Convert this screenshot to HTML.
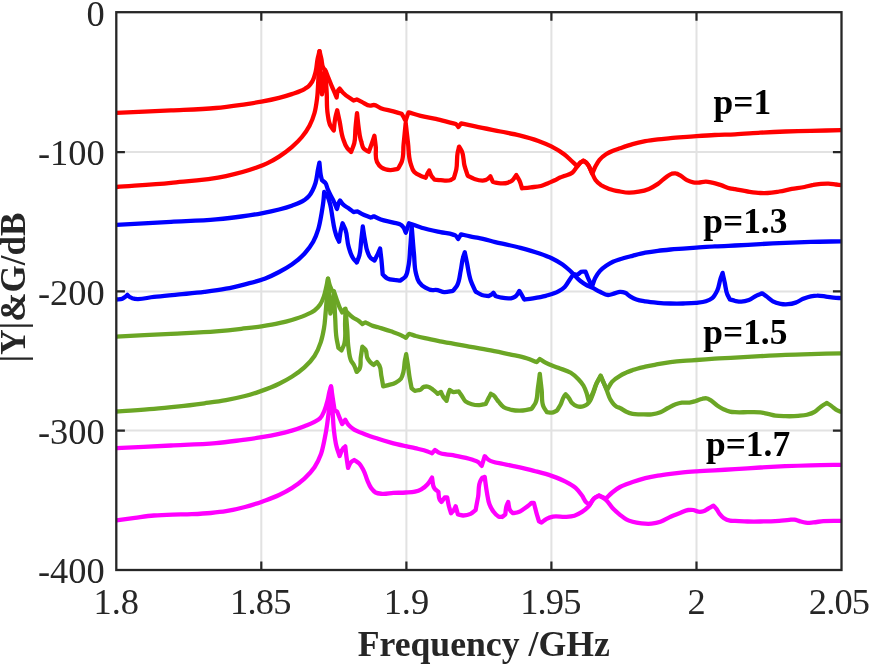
<!DOCTYPE html>
<html lang="en"><head><meta charset="utf-8"><title>|Y|&amp;G vs Frequency</title>
<style>html,body{margin:0;padding:0;background:#fff}body{width:871px;height:665px;overflow:hidden}svg{display:block}.t{font-family:"Liberation Serif","Times New Roman",serif;font-size:36.4px;fill:#262626}.b{font-family:"Liberation Serif","Times New Roman",serif;font-weight:bold;font-size:35.7px;fill:#262626}.p{font-family:"Liberation Serif","Times New Roman",serif;font-weight:bold;font-size:35.4px;fill:#000}.c{fill:none;stroke-width:4.3;stroke-linejoin:round;stroke-linecap:butt}</style></head><body>
<svg width="871" height="665" viewBox="0 0 871 665">
<rect width="871" height="665" fill="#fff"/>
<path d="M261.3 12.2V570.0M406.4 12.2V570.0M551.4 12.2V570.0M696.5 12.2V570.0M116.3 152.1H841.5M116.3 291.4H841.5M116.3 430.6H841.5" stroke="#e2e2e2" stroke-width="2" fill="none"/>
<clipPath id="cp"><rect x="116.3" y="12.2" width="725.2" height="557.8"/></clipPath>
<g clip-path="url(#cp)">
<path class="c" stroke="#ff0000" d="M116.3 112.9C134.5 112.1 152.8 111.3 171.0 110.4C186.0 109.7 201.1 109.5 216.0 108.0C224.5 107.2 232.9 106.0 241.3 104.8C248.0 103.8 254.8 102.9 261.5 101.7C267.4 100.6 273.3 99.4 279.1 97.9C283.4 96.8 287.6 95.5 291.8 94.1C296.1 92.6 300.5 91.4 304.4 89.1C305.8 88.2 307.3 87.4 308.5 86.3C310.0 84.9 311.2 83.2 312.3 81.5C314.1 78.5 314.8 74.9 315.7 71.5C316.7 67.4 316.7 63.1 317.6 58.9C318.1 56.3 318.9 53.7 319.5 51.1C320.1 53.7 320.8 56.3 321.4 58.9C322.1 61.9 321.7 65.2 323.3 67.8C323.8 68.7 324.6 69.4 325.2 70.3C326.7 72.6 327.3 75.4 328.4 77.9C329.4 80.4 330.4 83.0 331.5 85.5C332.7 88.4 334.1 91.3 335.3 94.3C335.7 95.4 336.2 96.4 336.6 97.5C337.1 95.2 336.8 92.5 338.1 90.5C338.6 89.8 339.2 89.2 339.7 88.6C340.8 89.9 341.7 91.3 342.9 92.6C345.9 95.9 350.0 97.9 353.6 100.6C354.7 100.2 355.7 99.8 356.8 99.4C358.5 100.2 360.1 101.1 361.8 101.9C364.5 103.2 367.0 105.7 370.0 105.7C371.3 105.7 372.5 105.0 373.8 105.0C376.4 105.0 378.4 107.3 380.8 108.2C384.9 109.7 389.2 110.2 393.4 111.4C396.1 112.2 398.9 113.0 401.6 113.8C402.2 114.7 402.8 115.6 403.3 116.5C404.1 117.9 404.8 119.4 405.6 120.8C406.1 119.2 406.6 117.6 407.2 116.0C407.6 114.8 408.1 113.6 408.6 112.4C412.6 113.5 416.6 114.8 420.6 115.8C425.6 117.0 430.8 117.8 435.8 118.9C441.7 120.2 447.6 122.0 453.5 123.4C454.2 123.6 455.0 123.6 455.7 123.9C456.9 124.5 457.5 126.0 458.4 127.0C459.3 125.8 460.3 124.5 461.2 123.3C465.9 124.3 470.6 125.4 475.3 126.4C483.7 128.2 492.1 129.8 500.5 131.5C506.8 132.8 513.2 133.8 519.5 135.3C525.9 136.9 532.2 138.6 538.4 140.9C542.8 142.5 547.1 144.3 551.3 146.4C555.8 148.7 560.1 151.2 564.1 154.3C567.0 156.5 569.5 159.1 572.2 161.5C573.9 163.1 575.6 164.7 577.3 166.3C578.4 165.0 579.2 163.5 580.5 162.5C581.4 161.8 582.5 161.3 583.5 160.7C584.6 161.5 585.7 162.2 586.7 163.1C589.6 165.8 590.4 170.1 592.3 173.6C593.4 171.2 594.3 168.6 595.5 166.3C596.7 164.1 597.9 161.8 599.5 159.9C601.3 157.7 603.6 155.9 606.0 154.3C608.2 152.9 610.6 151.8 613.0 150.8C615.3 149.8 617.7 149.1 620.0 148.3C624.2 146.8 628.3 145.3 632.6 144.1C636.8 142.9 641.0 142.0 645.3 141.2C649.5 140.4 653.7 139.9 657.9 139.4C662.1 138.9 666.3 138.6 670.5 138.2C674.7 137.8 678.9 137.5 683.1 137.2C687.5 136.8 692.0 136.4 696.4 136.1C702.5 135.7 708.6 135.3 714.7 135.0C721.5 134.7 728.2 134.7 735.0 134.4C743.4 134.0 751.9 133.2 760.3 132.7C768.7 132.2 777.1 131.8 785.5 131.5C793.9 131.2 802.4 131.0 810.8 130.8C821.0 130.6 831.3 130.4 841.5 130.2"/>
<path class="c" stroke="#ff0000" d="M116.3 187.0C134.5 185.6 152.8 184.6 171.0 182.8C189.4 181.0 208.0 180.1 226.0 176.1C235.9 173.9 245.7 171.4 255.2 168.0C259.0 166.6 262.8 165.3 266.5 163.6C270.9 161.6 275.1 159.2 279.1 156.6C283.5 153.7 287.8 150.6 291.8 147.1C295.4 144.0 298.9 140.7 301.9 137.0C304.8 133.5 307.4 129.7 309.5 125.7C311.6 121.7 313.3 117.4 314.5 113.0C315.8 108.4 316.4 103.7 317.0 99.0C317.9 92.0 318.0 85.0 318.4 78.0C318.9 69.0 319.1 60.1 319.5 51.1C319.9 59.1 320.3 67.0 320.8 75.0C321.2 81.4 321.6 87.9 322.0 94.3C322.5 91.2 323.1 88.1 323.5 85.0C324.2 80.1 324.6 75.2 325.2 70.3C325.7 77.7 326.3 85.2 326.7 92.6C327.1 99.8 326.5 107.0 327.7 114.1C328.3 117.9 328.5 122.0 330.3 125.5C331.2 127.3 332.6 128.8 333.8 130.5C334.3 126.3 334.5 122.0 335.3 117.9C335.8 115.3 336.6 112.8 337.2 110.3C338.0 114.1 338.9 117.9 339.7 121.7C340.8 127.2 341.1 132.8 342.9 138.1C344.1 141.6 345.0 145.3 347.3 148.2C348.4 149.6 349.8 150.7 351.1 152.0C352.2 149.0 353.5 146.2 354.3 143.1C355.5 138.2 355.0 133.0 355.5 128.0C355.9 123.0 356.5 118.1 357.0 113.1C357.6 118.1 358.0 123.1 358.7 128.0C359.2 131.8 359.6 135.7 360.6 139.4C360.8 140.2 361.1 140.9 361.3 141.7C362.0 144.0 362.2 146.7 363.8 148.6C365.1 150.1 367.1 150.7 368.8 151.8C369.9 148.8 371.0 145.9 372.0 142.9C372.8 140.5 373.6 138.2 374.4 135.8C374.9 139.5 375.4 143.3 375.8 147.0C376.3 152.0 374.7 157.5 377.0 161.9C378.1 164.0 379.5 166.2 381.5 167.6C384.0 169.4 387.3 170.0 390.3 170.1C392.9 170.2 395.4 169.2 397.9 168.8C399.2 166.5 400.7 164.3 401.7 161.9C403.9 156.4 403.0 150.1 403.6 144.2C404.3 137.1 405.0 130.1 405.7 123.0C406.5 129.6 407.2 136.3 408.0 142.9C408.8 149.6 408.4 156.6 410.5 163.1C411.5 166.2 412.1 169.7 414.3 172.0C416.0 173.8 418.4 174.8 420.6 175.8C422.2 176.6 424.0 177.1 425.7 177.7C426.3 176.2 426.9 174.7 427.6 173.3C428.1 172.3 428.7 171.4 429.2 170.5C429.9 172.3 430.4 174.2 431.4 175.8C432.3 177.2 433.5 178.3 434.5 179.6C436.6 179.8 438.7 180.1 440.8 180.2C444.2 180.4 447.8 181.2 450.9 179.9C451.9 179.5 452.8 178.8 453.8 178.2C454.6 175.3 455.7 172.4 456.3 169.4C457.4 164.0 456.6 158.3 457.6 152.9C458.0 150.8 458.6 148.7 459.1 146.6C460.1 148.3 461.2 149.9 462.0 151.7C463.9 156.0 463.3 161.0 464.5 165.6C465.4 169.0 466.6 172.3 467.7 175.7C469.8 176.7 471.8 178.0 474.0 178.8C477.6 180.0 481.8 181.5 485.4 180.1C486.3 179.8 487.1 179.3 487.9 178.8C488.9 178.1 489.6 177.1 490.4 176.3C491.2 178.2 492.1 180.1 492.9 182.0C495.4 182.4 497.9 183.2 500.5 183.3C503.0 183.4 505.7 183.4 508.1 182.6C509.4 182.1 510.8 181.5 511.9 180.7C513.8 179.3 514.8 176.9 516.3 175.0C517.4 176.9 518.6 178.7 519.5 180.7C520.6 183.1 521.2 185.8 522.0 188.3C524.9 188.0 527.9 187.7 530.8 187.3C534.2 186.9 537.6 186.9 540.9 186.0C543.5 185.3 546.0 184.0 548.5 183.0C550.6 182.1 552.7 181.3 554.8 180.3C556.6 179.4 558.2 178.3 560.0 177.5C561.3 176.9 562.7 176.5 564.1 176.0C566.8 175.0 569.9 174.6 572.2 172.8C574.4 171.1 575.6 168.4 577.3 166.3C578.4 165.0 579.2 163.5 580.5 162.5C581.4 161.8 582.5 161.3 583.5 160.7C584.6 161.5 585.7 162.2 586.7 163.1C589.6 165.8 590.5 170.1 592.3 173.6C593.4 175.7 594.1 178.1 595.5 180.0C597.0 182.1 599.1 183.8 601.2 185.3C603.6 186.9 606.4 187.9 609.2 188.9C612.7 190.1 616.4 190.8 620.0 191.5C622.9 192.0 625.8 192.6 628.8 192.7C632.2 192.8 635.6 192.3 638.9 191.7C642.3 191.1 645.8 190.2 649.0 188.9C652.1 187.6 655.1 185.8 657.9 183.9C661.2 181.7 663.8 178.4 667.2 176.3C668.7 175.4 670.1 174.2 671.8 173.7C673.0 173.4 674.3 173.2 675.6 173.4C677.4 173.6 679.0 174.8 680.6 175.7C682.8 176.9 684.6 178.9 686.9 180.1C688.9 181.1 691.1 182.0 693.3 182.4C694.9 182.7 696.6 182.6 698.3 182.6C700.9 182.5 703.3 181.5 705.9 181.6C708.0 181.7 710.1 182.2 712.2 182.6C715.2 183.2 718.1 184.2 721.0 185.1C724.0 186.1 726.8 187.6 729.9 188.3C731.6 188.7 733.3 188.9 735.0 189.2C739.2 189.9 743.4 190.9 747.6 191.5C751.8 192.1 756.0 192.8 760.3 193.0C762.8 193.1 765.3 193.1 767.8 193.0C771.6 192.8 775.4 192.1 779.2 191.5C783.4 190.8 787.6 189.7 791.8 188.9C796.0 188.2 800.3 187.8 804.5 187.0C807.5 186.4 810.3 185.4 813.3 184.9C815.8 184.4 818.4 184.1 820.9 183.9C823.4 183.7 826.0 183.5 828.5 183.6C831.0 183.7 833.5 184.2 836.0 184.5C837.8 184.7 839.7 184.9 841.5 185.1"/>
<path class="c" stroke="#0000ff" d="M116.3 224.9C134.5 223.9 152.8 222.8 171.0 221.8C186.0 221.0 201.0 220.8 216.0 219.4C224.5 218.6 232.9 217.7 241.3 216.5C248.1 215.6 254.8 214.6 261.5 213.3C267.4 212.2 273.3 211.0 279.1 209.5C283.4 208.4 287.7 207.2 291.8 205.7C296.1 204.1 300.7 202.8 304.4 200.1C306.0 198.9 307.6 197.7 308.9 196.2C310.4 194.5 311.5 192.5 312.5 190.5C313.7 188.1 314.7 185.6 315.5 183.0C316.8 178.8 317.1 174.3 317.9 170.0C318.4 167.5 318.9 165.1 319.4 162.6C319.9 166.8 320.0 171.1 320.8 175.3C321.1 177.0 321.6 178.6 322.0 180.3C323.1 181.1 324.3 181.8 325.2 182.8C326.7 184.5 326.8 187.1 327.7 189.2C328.5 191.1 329.4 193.0 330.3 194.8C331.5 197.2 332.9 199.4 334.0 201.8C335.1 204.2 336.0 206.6 337.0 209.0C337.6 207.0 337.8 204.9 338.7 203.0C339.1 202.1 339.6 201.3 340.1 200.5C341.0 201.8 341.8 203.2 342.9 204.3C344.7 206.2 347.1 207.2 349.2 208.7C350.7 209.8 352.1 211.0 353.6 212.1C354.9 211.8 356.1 211.6 357.4 211.3C358.9 212.1 360.3 213.0 361.8 213.8C364.7 215.3 367.7 216.3 370.7 217.6C371.7 217.2 372.8 216.7 373.8 216.3C376.1 217.4 378.4 218.6 380.8 219.5C384.8 221.0 389.2 221.4 393.4 222.6C396.1 223.4 399.2 223.4 401.4 225.2C402.2 225.9 402.9 226.7 403.5 227.5C404.6 229.0 405.0 231.0 405.8 232.7C406.8 229.6 407.9 226.4 408.9 223.3C413.1 224.8 417.3 226.4 421.6 227.7C427.8 229.6 434.2 230.8 440.5 232.1C444.7 233.0 449.1 233.2 453.1 234.6C453.9 234.9 454.8 235.0 455.5 235.5C456.7 236.3 457.3 237.8 458.2 239.0C459.1 237.4 460.1 235.9 461.0 234.3C464.0 235.0 467.0 235.8 470.0 236.4C472.8 237.0 475.6 237.3 478.4 237.8C484.1 238.9 489.7 240.7 495.3 242.1C503.7 244.1 512.2 245.6 520.5 247.8C526.9 249.5 533.3 251.3 539.5 253.5C543.8 255.0 548.0 256.5 552.1 258.5C555.6 260.2 559.0 262.0 562.2 264.2C564.9 266.1 567.4 268.3 569.8 270.5C571.1 271.7 572.3 273.0 573.6 274.3C576.0 276.6 578.1 279.3 580.7 281.3C582.7 282.9 584.9 284.3 587.2 285.5C588.7 286.3 590.4 286.8 592.0 287.5C594.8 288.8 597.3 290.5 600.0 291.8C602.6 293.0 605.2 294.9 608.1 295.0C610.3 295.0 612.4 294.0 614.5 293.4C616.3 292.9 618.1 291.9 620.0 291.8C621.7 291.7 623.5 292.1 625.1 292.8C627.0 293.6 628.4 295.3 630.1 296.3C632.1 297.5 634.2 298.6 636.4 299.4C639.2 300.4 642.3 300.8 645.3 301.3C649.5 302.0 653.7 302.4 657.9 302.8C662.1 303.2 666.3 303.4 670.5 303.5C674.7 303.6 678.9 303.6 683.1 303.5C687.3 303.4 691.6 303.4 695.8 302.9C699.2 302.5 702.7 302.4 705.9 301.3C708.1 300.5 710.4 299.6 712.2 298.1C714.5 296.2 715.9 293.3 717.2 290.6C718.9 287.1 719.2 283.0 720.4 279.2C721.1 277.1 721.9 275.0 722.6 272.9C723.3 276.3 724.1 279.6 724.8 283.0C725.6 286.8 725.8 290.8 727.3 294.4C728.0 296.1 729.0 297.7 729.9 299.4C731.6 299.9 733.3 300.5 735.0 300.9C737.1 301.3 739.2 301.8 741.3 301.7C743.9 301.6 746.5 300.9 748.9 300.0C751.6 299.0 753.9 296.9 756.5 295.6C758.4 294.7 760.3 294.1 762.2 293.3C763.9 294.5 765.6 295.7 767.2 296.9C769.1 298.3 770.8 300.2 772.9 301.3C775.2 302.6 777.9 303.3 780.5 303.8C783.0 304.3 785.5 304.4 788.0 304.2C790.6 304.0 793.2 303.4 795.6 302.6C798.3 301.7 800.6 299.9 803.2 298.8C805.7 297.8 808.2 296.8 810.8 296.3C812.9 295.9 815.0 295.6 817.1 295.6C820.1 295.5 823.0 296.2 825.9 296.6C829.3 297.0 832.6 297.7 836.0 297.9C837.8 298.0 839.7 298.0 841.5 298.1"/>
<path class="c" stroke="#0000ff" d="M116.3 299.5C118.3 299.3 120.5 299.6 122.3 298.8C123.3 298.4 124.1 297.7 125.0 297.0C125.9 296.3 126.6 295.5 127.4 294.8C128.2 295.5 128.9 296.4 129.8 297.0C130.6 297.5 131.5 297.8 132.4 298.2C139.1 300.8 146.7 297.5 153.9 296.9C162.3 296.2 170.8 295.2 179.2 294.4C187.6 293.6 196.0 293.0 204.4 291.9C211.6 291.0 218.9 290.1 226.0 288.7C232.4 287.5 238.7 285.9 245.0 284.3C251.8 282.5 258.7 281.0 265.3 278.4C270.0 276.6 274.6 274.4 279.1 272.0C283.5 269.7 287.8 267.3 291.8 264.5C296.3 261.3 300.7 257.8 304.4 253.7C307.7 250.0 310.8 246.0 313.2 241.7C315.4 237.7 317.0 233.4 318.3 229.1C319.8 224.2 320.6 219.0 321.5 213.9C322.2 209.7 322.9 205.5 323.4 201.3C323.8 198.2 323.9 195.1 324.2 192.0C325.4 193.6 326.8 195.1 327.8 196.9C329.1 199.4 329.6 202.3 330.3 205.0C331.2 208.6 331.6 212.3 332.2 216.0C333.0 220.7 333.5 225.4 334.7 230.0C335.4 232.5 336.0 235.1 337.0 237.5C337.6 238.9 338.4 240.3 339.1 241.7C339.7 237.6 340.1 233.4 341.0 229.4C341.5 227.3 342.1 225.3 342.6 223.3C343.5 225.4 344.6 227.4 345.4 229.5C347.4 235.0 346.9 241.1 348.6 246.7C349.8 250.6 350.7 254.7 353.0 258.1C354.1 259.7 355.5 261.0 356.8 262.5C357.6 260.2 358.6 258.0 359.3 255.6C360.7 250.7 360.6 245.5 361.2 240.4C361.8 235.8 362.3 231.1 362.8 226.5C363.5 231.1 364.1 235.8 365.0 240.4C365.7 244.2 366.1 248.2 367.5 251.8C368.4 254.0 369.0 256.4 370.7 258.1C371.8 259.2 373.2 259.8 374.5 260.6C375.5 258.5 376.6 256.4 377.6 254.3C378.5 252.4 379.3 250.5 380.1 248.6C380.5 252.2 381.0 255.8 381.4 259.4C381.9 264.4 382.3 269.5 382.7 274.5C384.2 275.8 385.4 277.3 387.1 278.3C389.7 279.8 392.9 279.8 395.9 280.2C397.3 280.4 398.7 280.5 400.1 280.7C401.8 279.4 403.8 278.5 405.2 276.9C407.5 274.2 407.5 270.2 408.3 266.8C409.7 260.6 409.7 254.2 410.2 247.9C410.8 240.7 411.2 233.6 411.7 226.4C412.5 235.7 413.1 244.9 414.0 254.2C414.6 260.5 414.3 267.0 415.9 273.1C416.7 276.1 417.2 279.4 419.0 282.0C420.6 284.4 422.9 286.3 425.4 287.7C427.7 289.0 430.3 290.3 432.9 290.2C433.8 290.2 434.6 289.9 435.5 289.8C438.5 289.6 441.3 291.9 444.3 292.1C447.3 292.3 450.2 291.2 453.1 290.8C454.4 289.1 455.8 287.6 456.9 285.8C459.6 281.3 459.6 275.7 460.7 270.6C461.7 266.0 461.9 261.2 463.3 256.7C463.7 255.2 464.3 253.8 464.8 252.3C465.5 255.9 466.3 259.4 467.0 263.0C468.2 268.9 468.8 275.0 470.8 280.7C472.1 284.4 473.9 287.9 475.5 291.5C477.7 292.7 479.7 294.2 482.0 295.0C484.2 295.7 486.7 295.7 489.0 296.0C489.8 295.5 490.7 295.1 491.5 294.5C492.2 294.0 492.8 293.3 493.4 292.7C494.1 293.8 494.8 294.9 495.5 296.0C497.5 296.6 499.5 297.3 501.6 297.7C505.3 298.4 509.4 299.2 512.9 297.7C514.0 297.2 515.2 296.6 516.1 295.8C517.6 294.5 518.2 292.6 519.3 291.0C520.1 292.3 521.0 293.6 521.8 295.0C522.7 296.5 523.5 298.1 524.3 299.6C527.2 299.2 530.2 298.8 533.1 298.3C537.4 297.6 541.6 296.9 545.8 295.8C550.1 294.6 554.5 293.6 558.4 291.4C560.6 290.1 562.9 288.7 564.7 286.9C566.8 284.8 568.0 281.9 569.8 279.4C571.0 277.7 572.3 276.0 573.6 274.3C574.9 274.4 576.2 274.8 577.5 274.5C579.1 274.1 580.0 272.1 581.6 271.7C582.9 271.3 584.3 271.7 585.6 271.7C586.7 274.4 587.6 277.1 588.8 279.7C589.8 282.0 590.9 284.2 592.0 286.5C593.1 283.7 593.8 280.8 595.2 278.1C596.5 275.5 598.1 273.0 600.0 270.9C601.9 268.8 604.2 267.2 606.5 265.6C608.6 264.2 610.7 262.9 613.0 261.8C615.2 260.8 617.6 260.1 620.0 259.3C624.1 257.9 628.4 256.9 632.6 255.8C636.8 254.7 641.0 253.5 645.3 252.7C649.5 251.9 653.7 251.3 657.9 250.8C662.1 250.3 666.3 249.9 670.5 249.5C674.7 249.1 678.9 248.9 683.1 248.6C687.5 248.3 692.0 247.9 696.4 247.6C702.5 247.2 708.6 246.7 714.7 246.4C721.5 246.0 728.2 245.8 735.0 245.5C743.4 245.1 751.9 244.6 760.3 244.1C768.7 243.7 777.1 243.2 785.5 242.8C793.9 242.4 802.4 242.1 810.8 241.9C821.0 241.6 831.3 241.5 841.5 241.3"/>
<path class="c" stroke="#6ba625" d="M116.3 336.6C134.5 335.7 152.8 334.8 171.0 333.8C186.0 333.0 201.0 332.7 216.0 331.4C224.4 330.7 232.9 329.8 241.3 328.8C248.0 328.0 254.8 327.3 261.5 326.3C267.4 325.4 273.3 324.5 279.1 323.2C283.4 322.3 287.6 321.3 291.8 320.0C296.1 318.7 300.3 317.4 304.4 315.6C307.9 314.1 311.5 312.8 314.5 310.5C316.6 308.9 318.5 307.0 320.0 304.8C321.7 302.3 322.8 299.4 323.8 296.6C325.0 293.3 325.6 289.9 326.4 286.5C327.0 283.9 327.5 281.2 328.0 278.6C328.7 281.2 329.2 284.0 330.2 286.5C330.7 287.9 331.4 289.2 332.0 290.5C332.6 290.8 333.3 291.2 333.9 291.5C334.8 294.0 335.6 296.6 336.5 299.1C337.5 301.9 338.4 304.6 339.6 307.3C340.4 309.0 341.3 310.7 342.2 312.4C343.0 311.3 343.9 310.3 344.7 309.2C345.7 310.5 346.7 311.8 347.8 313.0C349.3 314.6 351.1 316.1 352.9 317.4C354.9 318.8 357.3 319.7 359.2 321.2C360.3 322.1 361.3 323.1 362.4 324.0C363.4 323.5 364.5 322.9 365.5 322.4C367.6 323.4 369.6 324.6 371.8 325.4C373.8 326.2 376.0 326.7 378.1 327.3C382.3 328.6 386.6 329.8 390.8 331.3C394.2 332.5 397.7 333.5 400.9 335.1C402.6 335.9 404.2 336.9 405.9 337.8C407.0 336.5 408.0 335.1 409.1 333.8C411.4 334.5 413.7 335.3 416.0 336.0C418.9 336.8 421.9 337.5 424.9 338.2C430.0 339.4 435.2 340.4 440.3 341.4C448.7 343.0 457.1 344.3 465.5 345.8C473.9 347.3 482.4 348.6 490.8 350.3C497.1 351.5 503.4 352.9 509.7 354.3C515.3 355.6 521.1 356.5 526.6 358.3C530.0 359.4 533.3 360.8 536.7 362.1C537.7 361.0 538.8 360.0 539.8 358.9C541.7 360.2 543.5 361.6 545.5 362.7C549.5 365.0 554.0 366.1 558.2 367.8C562.4 369.5 567.0 370.4 570.8 372.8C573.6 374.6 576.1 376.8 578.4 379.2C580.2 381.1 582.0 383.2 583.4 385.5C584.8 387.8 585.7 390.4 586.6 393.0C587.5 395.6 587.9 398.3 588.6 401.0C589.9 398.7 591.3 396.4 592.4 394.0C594.0 390.6 594.8 386.9 596.4 383.5C597.6 380.9 599.2 378.4 600.6 375.8C601.7 378.4 602.8 381.0 604.0 383.5C605.0 385.7 606.1 387.8 607.2 390.0C608.8 387.3 609.9 384.2 612.0 381.8C614.2 379.3 617.1 377.5 620.0 375.8C622.0 374.6 624.2 373.6 626.3 372.6C628.4 371.7 630.5 370.8 632.6 370.1C636.7 368.6 641.0 367.7 645.3 366.7C649.5 365.7 653.7 365.0 657.9 364.2C662.1 363.4 666.3 362.7 670.5 362.1C674.7 361.6 678.9 361.2 683.1 360.9C687.5 360.5 692.0 360.3 696.4 360.0C702.5 359.6 708.6 359.1 714.7 358.7C721.5 358.3 728.2 358.1 735.0 357.7C743.4 357.2 751.9 356.7 760.3 356.2C768.7 355.7 777.1 355.2 785.5 354.9C793.9 354.5 802.4 354.3 810.8 354.1C821.0 353.8 831.3 353.6 841.5 353.4"/>
<path class="c" stroke="#6ba625" d="M116.3 411.5C128.8 410.6 141.4 410.0 153.9 408.9C162.3 408.2 170.8 407.3 179.2 406.4C187.6 405.5 196.0 404.4 204.4 403.3C211.6 402.3 218.8 401.4 226.0 400.1C232.4 398.9 238.7 397.6 245.0 396.0C250.1 394.7 255.2 393.1 260.2 391.4C266.6 389.2 273.0 386.8 279.1 383.8C283.4 381.7 287.7 379.4 291.8 376.8C296.2 374.0 300.5 371.0 304.4 367.4C308.1 364.0 311.7 360.3 314.5 356.0C317.3 351.7 319.2 346.9 320.8 342.1C322.3 337.6 323.2 332.9 324.0 328.2C324.9 323.2 325.1 318.1 325.6 313.0C326.1 308.0 326.4 303.0 326.8 298.0C327.3 291.5 327.6 285.1 328.0 278.6C328.4 284.6 328.7 290.6 329.1 296.6C329.5 302.3 330.0 307.9 330.4 313.6C330.9 311.3 331.5 309.0 332.0 306.7C333.0 301.7 333.3 296.6 333.9 291.5C334.3 300.3 334.7 309.2 335.2 318.0C335.6 324.6 335.5 331.3 336.5 337.8C337.0 341.2 337.8 344.5 338.4 347.9C339.4 348.7 340.5 349.6 341.5 350.4C342.3 348.7 343.2 347.1 343.8 345.4C346.5 338.3 344.8 330.2 345.1 322.6C345.3 317.9 345.4 313.3 345.5 308.6C346.1 315.4 346.7 322.1 347.2 328.9C347.7 335.2 347.6 341.6 348.5 347.9C349.1 352.1 349.2 356.6 351.0 360.5C351.9 362.3 353.3 363.8 354.2 365.6C355.2 367.6 355.9 369.8 356.7 371.9C357.5 371.1 358.5 370.3 359.2 369.4C361.5 366.3 360.2 361.8 360.7 358.0C361.2 354.2 361.8 350.4 362.4 346.6C363.4 347.7 364.7 348.6 365.5 349.8C367.0 352.1 366.2 355.5 367.4 358.0C368.1 359.4 368.9 360.7 369.9 361.8C371.0 363.0 372.4 363.9 373.7 364.9C374.8 363.9 375.8 363.0 376.9 362.0C377.7 363.2 378.7 364.3 379.4 365.6C381.0 368.6 380.7 372.3 381.3 375.7C382.0 379.3 382.6 382.8 383.2 386.4C384.9 386.0 386.6 385.6 388.3 385.1C390.8 384.4 393.5 383.9 395.8 382.6C397.7 381.6 399.6 380.5 400.9 378.8C402.4 376.9 402.8 374.3 403.4 371.9C404.4 368.2 404.2 364.3 404.9 360.5C405.3 358.4 405.8 356.3 406.2 354.2C406.7 357.6 407.3 360.9 407.8 364.3C408.5 368.9 408.9 373.6 409.7 378.2C410.3 381.6 411.0 384.9 411.6 388.3C412.7 389.1 413.7 390.0 414.8 390.8C416.1 390.6 417.3 390.4 418.6 390.2C419.1 390.1 419.5 390.1 420.0 390.0C421.6 389.6 422.3 387.4 423.8 386.9C425.0 386.5 426.3 386.4 427.6 386.6C429.5 386.9 431.1 388.3 432.7 389.4C434.5 390.7 436.0 392.3 437.7 393.8C438.8 393.2 439.8 392.5 440.9 391.9C441.7 393.6 442.4 395.4 443.4 397.0C444.3 398.4 445.5 399.5 446.6 400.8C447.2 398.3 447.7 395.7 448.5 393.2C448.9 392.1 449.3 391.1 449.7 390.0C450.8 390.6 451.7 391.6 452.9 391.9C454.7 392.4 456.7 391.5 458.6 391.3C459.6 392.8 460.7 394.2 461.7 395.7C463.0 397.6 463.8 399.9 465.5 401.4C467.3 402.9 469.6 403.7 471.8 404.3C474.2 405.0 476.9 405.3 479.4 405.2C481.5 405.1 483.6 404.3 485.7 403.9C486.8 401.8 487.8 399.7 488.9 397.6C489.5 396.3 490.2 395.1 490.8 393.8C491.8 394.4 493.0 394.9 493.9 395.7C495.0 396.6 495.6 397.9 496.5 399.0C497.3 400.0 498.0 401.0 498.8 401.9C500.4 403.8 501.8 406.0 503.8 407.3C506.0 408.8 508.8 409.2 511.4 409.8C515.1 410.6 519.0 410.8 522.8 410.5C525.8 410.3 528.7 409.4 531.6 408.8C532.9 406.9 534.4 405.1 535.4 403.1C537.7 398.5 537.1 393.0 537.9 388.0C538.6 383.3 539.2 378.5 539.8 373.8C540.4 379.4 541.1 384.9 541.7 390.5C542.3 396.0 541.2 401.9 543.6 406.9C544.5 408.7 545.7 410.3 546.8 412.0C548.5 412.2 550.1 412.8 551.8 412.6C553.6 412.4 555.2 411.3 556.9 410.7C558.2 408.6 559.6 406.6 560.7 404.4C561.9 402.0 562.3 399.1 563.8 396.8C564.4 395.9 565.1 395.1 565.7 394.3C566.8 395.6 567.9 396.8 568.9 398.1C570.1 399.7 570.6 401.7 572.0 403.1C573.4 404.5 575.2 405.7 577.1 406.3C579.1 406.9 581.4 406.9 583.4 406.3C584.7 405.9 586.0 405.3 587.1 404.4C588.5 403.3 589.4 401.8 590.3 400.3C591.4 398.6 591.9 396.6 592.7 394.7C594.2 391.0 595.1 387.1 596.7 383.5C597.9 380.8 599.4 378.3 600.7 375.7C601.8 378.3 602.9 380.9 604.0 383.5C605.1 386.2 606.1 388.8 607.2 391.5C608.3 394.2 608.9 397.0 610.4 399.5C612.1 402.3 613.9 405.3 616.8 406.8C617.8 407.3 619.0 407.5 620.0 408.0C622.2 409.0 624.1 410.8 626.3 411.8C628.3 412.7 630.4 413.5 632.6 413.9C635.5 414.5 638.5 414.2 641.5 414.3C644.9 414.4 648.3 414.7 651.6 414.3C654.6 413.9 657.6 413.3 660.4 412.2C663.1 411.1 665.4 409.3 668.0 408.0C670.5 406.7 672.9 405.1 675.6 404.2C677.6 403.5 679.8 402.9 681.9 402.6C684.4 402.3 687.0 402.9 689.5 402.6C691.6 402.3 693.7 401.6 695.8 401.0C697.9 400.4 699.9 399.2 702.1 398.8C703.5 398.5 705.0 398.1 706.5 398.3C708.1 398.5 709.5 399.6 710.9 400.4C713.2 401.8 715.0 404.0 717.2 405.5C719.2 406.9 721.4 408.2 723.6 409.3C725.6 410.2 727.7 411.1 729.9 411.6C731.6 412.0 733.3 412.1 735.0 412.2C739.2 412.5 743.4 412.2 747.6 412.2C751.8 412.2 756.1 411.9 760.3 412.4C762.8 412.7 765.3 413.4 767.8 413.9C770.3 414.4 772.8 415.2 775.4 415.6C778.7 416.1 782.1 416.1 785.5 416.2C789.7 416.3 793.9 416.3 798.1 415.9C801.1 415.6 804.1 415.5 807.0 414.7C809.6 414.0 812.3 413.2 814.6 411.8C816.9 410.5 818.7 408.3 820.9 406.7C822.7 405.4 824.7 404.2 826.6 402.9C828.3 404.0 830.0 404.9 831.6 406.1C833.1 407.2 834.4 408.6 836.0 409.6C837.7 410.7 839.7 411.3 841.5 412.2"/>
<path class="c" stroke="#ff00ff" d="M116.3 448.1C134.5 447.2 152.8 446.4 171.0 445.5C186.0 444.8 201.1 444.6 216.0 443.2C224.5 442.4 232.9 441.2 241.3 440.1C248.1 439.2 254.9 438.4 261.7 437.2C267.5 436.2 273.3 435.1 279.1 433.8C283.4 432.8 287.6 431.9 291.8 430.6C296.1 429.3 300.3 427.8 304.4 426.2C307.8 424.8 311.3 423.6 314.5 421.8C316.4 420.8 318.4 419.9 320.0 418.4C322.2 416.3 323.3 413.2 324.5 410.4C325.9 407.2 326.7 403.7 327.6 400.3C328.4 397.4 328.7 394.3 329.5 391.4C330.0 389.7 330.5 388.1 331.0 386.4C331.6 390.2 332.1 393.9 332.7 397.7C333.3 401.9 334.0 406.2 334.6 410.4C335.4 410.8 336.3 411.2 337.1 411.6C337.9 413.7 338.7 415.8 339.6 417.9C340.4 419.9 341.3 422.0 342.2 424.0C343.2 422.6 344.3 421.2 345.3 419.8C346.4 421.5 347.2 423.4 348.5 424.9C349.8 426.4 351.3 427.6 352.9 428.7C356.6 431.4 361.2 432.7 365.5 434.4C369.6 436.0 373.9 437.4 378.1 438.8C382.3 440.2 386.5 441.4 390.8 442.6C395.8 444.0 400.9 445.1 405.9 446.2C408.9 446.9 412.0 447.5 415.0 448.2C419.2 449.2 423.6 449.9 427.6 451.4C429.1 452.0 430.5 452.7 432.0 453.3C433.0 452.2 434.0 451.0 435.0 449.9C436.1 450.7 437.2 451.7 438.4 452.4C442.6 454.9 448.1 454.2 452.9 455.2C459.2 456.5 465.7 457.4 471.8 459.6C473.9 460.4 476.3 460.8 478.1 462.1C479.5 463.1 480.5 464.6 481.7 465.9C482.7 462.7 483.7 459.4 484.7 456.2C485.9 457.3 487.0 458.6 488.3 459.6C492.5 462.8 498.3 462.8 503.4 464.0C507.2 464.9 511.1 465.6 515.0 466.4C521.3 467.8 527.6 469.2 533.9 470.8C539.8 472.4 545.8 473.9 551.6 475.9C556.3 477.6 561.1 479.3 565.5 481.6C569.0 483.4 572.6 485.3 575.6 487.9C578.1 490.1 580.0 492.8 582.0 495.5C583.8 497.9 584.4 501.4 587.0 503.0C588.0 503.6 589.1 503.9 590.1 504.3C591.4 502.4 592.2 500.2 593.9 498.6C595.4 497.2 597.3 496.5 599.0 495.5C601.3 496.5 603.6 497.6 605.9 498.6C608.0 496.6 610.0 494.4 612.2 492.5C614.6 490.5 617.2 488.5 620.0 487.0C622.0 485.9 624.2 485.1 626.3 484.3C628.4 483.5 630.5 482.7 632.6 482.0C636.8 480.6 641.0 479.3 645.3 478.2C649.5 477.2 653.7 476.4 657.9 475.7C662.1 475.0 666.3 474.4 670.5 473.8C674.7 473.2 678.9 472.7 683.1 472.3C687.5 471.9 692.0 471.6 696.4 471.3C702.5 470.9 708.6 470.6 714.7 470.3C721.5 469.9 728.2 469.6 735.0 469.2C743.4 468.7 751.9 468.0 760.3 467.5C768.7 467.0 777.1 466.6 785.5 466.2C793.9 465.8 802.4 465.5 810.8 465.3C821.0 465.0 831.3 465.0 841.5 464.9"/>
<path class="c" stroke="#ff00ff" d="M116.3 520.3C122.5 519.5 128.7 518.6 134.9 517.8C141.2 517.0 147.5 516.0 153.9 515.5C160.2 515.0 166.5 514.8 172.8 514.6C179.1 514.4 185.5 514.5 191.8 514.2C198.1 513.9 204.4 513.6 210.7 513.0C215.8 512.5 220.9 512.0 226.0 511.2C232.4 510.2 238.7 508.7 245.0 507.0C251.0 505.4 256.9 503.5 262.7 501.4C268.2 499.4 273.8 497.5 279.1 495.0C283.5 492.9 287.7 490.7 291.8 488.1C296.2 485.3 300.5 482.2 304.4 478.6C308.1 475.2 311.7 471.5 314.5 467.3C317.1 463.4 319.2 459.0 320.8 454.6C322.3 450.5 323.1 446.2 324.0 442.0C324.8 438.2 325.5 434.4 326.2 430.6C327.3 423.9 328.1 417.2 328.9 410.4C329.8 402.4 330.3 394.4 331.0 386.4C331.6 395.2 332.1 404.1 332.7 412.9C333.1 418.6 333.2 424.3 333.9 430.0C334.5 435.5 335.1 441.0 336.5 446.4C337.3 449.7 338.6 452.8 339.6 456.0C340.7 453.6 341.2 450.9 342.8 448.9C343.5 448.0 344.5 447.2 345.3 446.4C345.7 450.2 346.1 454.0 346.6 457.8C347.0 461.2 347.6 464.5 348.1 467.9C349.1 466.0 349.5 463.7 351.0 462.2C351.9 461.3 353.1 460.7 354.2 460.0C355.9 461.2 357.8 462.1 359.2 463.5C361.1 465.4 362.3 468.0 363.6 470.4C365.3 473.6 365.9 477.2 367.4 480.5C368.5 483.1 369.5 485.8 371.2 488.1C372.5 489.8 373.8 491.5 375.6 492.5C377.5 493.5 379.8 493.6 381.9 493.8C385.7 494.2 389.5 493.1 393.3 492.9C397.5 492.7 401.7 492.8 405.9 492.5C408.9 492.3 412.0 492.3 415.0 491.6C417.2 491.1 419.3 490.4 421.3 489.3C423.7 488.0 425.8 486.2 427.6 484.2C429.4 482.2 430.5 479.8 432.0 477.6C432.9 481.3 432.2 485.7 434.6 488.6C435.6 489.9 437.1 490.7 438.4 491.8C438.8 494.3 438.4 497.2 439.6 499.4C440.1 500.3 440.9 501.1 441.5 501.9C442.6 500.4 443.6 499.0 444.7 497.5C445.5 497.5 446.4 497.5 447.2 497.5C447.8 500.6 448.3 503.8 449.1 506.9C449.7 509.0 450.4 511.1 451.0 513.2C451.8 512.3 452.8 511.5 453.5 510.5C454.4 509.2 455.0 507.7 455.7 506.3C456.4 509.0 457.2 511.8 457.9 514.5C459.6 514.8 461.3 515.4 463.0 515.5C465.6 515.6 468.3 515.0 470.6 513.9C472.5 513.0 473.9 511.4 475.6 510.1C476.4 505.7 477.3 501.2 478.1 496.8C479.1 491.3 477.9 485.2 480.7 480.4C481.3 479.4 481.7 478.2 482.6 477.6C483.2 477.2 484.0 477.1 484.7 476.9C485.5 482.3 486.0 487.7 487.0 493.0C487.7 496.8 488.0 500.8 489.5 504.4C490.5 506.9 491.7 509.3 493.3 511.4C494.7 513.3 496.2 515.5 498.4 516.4C499.6 516.9 500.9 516.8 502.1 517.0C503.2 516.2 504.2 515.3 505.3 514.5C505.7 511.6 505.6 508.5 506.6 505.7C507.0 504.5 507.7 503.3 508.2 502.1C508.9 505.0 508.6 508.3 510.4 510.7C511.1 511.6 512.1 512.4 512.9 513.2C514.8 512.8 516.8 512.7 518.6 512.0C520.2 511.4 521.6 510.4 523.0 509.5C524.6 508.5 526.1 507.4 527.6 506.2C528.9 505.2 530.1 504.1 531.4 503.0C532.2 503.0 533.1 503.0 533.9 503.0C534.8 506.4 535.6 509.8 536.5 513.1C537.3 515.9 538.2 518.6 539.0 521.4C539.8 521.8 540.7 522.2 541.5 522.6C543.2 521.3 544.7 519.8 546.6 518.8C548.6 517.8 550.7 517.2 552.9 516.7C557.0 515.8 561.3 517.2 565.5 516.9C568.5 516.7 571.5 516.6 574.4 515.7C577.1 514.9 579.6 513.4 582.0 511.9C584.3 510.4 586.4 508.8 588.3 506.8C590.6 504.4 591.4 500.7 593.9 498.6C595.4 497.3 597.3 496.5 599.0 495.5C601.3 497.0 603.8 498.1 605.9 499.9C608.5 502.2 610.1 505.5 612.5 508.0C614.8 510.4 617.4 512.7 620.0 514.8C622.0 516.4 624.0 518.1 626.3 519.3C628.3 520.4 630.4 521.1 632.6 521.8C635.5 522.7 638.5 523.1 641.5 523.4C644.8 523.8 648.2 524.0 651.6 523.7C654.6 523.4 657.6 522.8 660.4 521.8C663.5 520.7 666.3 518.8 669.3 517.4C672.6 515.9 676.0 514.6 679.4 513.3C682.3 512.2 685.1 510.4 688.2 510.0C689.9 509.8 691.6 509.7 693.3 510.0C695.0 510.3 696.6 511.5 698.3 511.7C700.0 511.9 701.8 511.8 703.4 511.3C705.2 510.8 706.7 509.4 708.4 508.5C710.1 507.6 711.8 506.6 713.5 505.7C714.5 506.8 715.7 507.9 716.6 509.1C717.8 510.7 718.5 512.6 719.8 514.2C720.9 515.6 722.1 517.0 723.6 518.0C725.5 519.3 727.7 520.3 729.9 520.7C731.6 521.0 733.3 520.8 735.0 520.9C739.2 521.1 743.4 521.4 747.6 521.5C751.8 521.6 756.1 521.6 760.3 521.5C766.6 521.4 772.9 521.2 779.2 520.8C782.6 520.6 785.9 520.1 789.3 519.9C791.0 519.8 792.7 519.4 794.4 519.6C796.1 519.8 797.7 520.6 799.4 521.1C801.5 521.7 803.5 522.4 805.7 522.7C808.2 523.0 810.8 522.6 813.3 522.4C816.7 522.1 820.0 521.4 823.4 521.1C829.4 520.6 835.5 520.9 841.5 520.8"/>
</g>
<path d="M261.3 570.0v-8.6M261.3 12.2v8.6M406.4 570.0v-8.6M406.4 12.2v8.6M551.4 570.0v-8.6M551.4 12.2v8.6M696.5 570.0v-8.6M696.5 12.2v8.6M116.3 152.1h8.6M841.5 152.1h-8.6M116.3 291.4h8.6M841.5 291.4h-8.6M116.3 430.6h8.6M841.5 430.6h-8.6" stroke="#262626" stroke-width="2.2" fill="none"/>
<rect x="116.3" y="12.2" width="725.2" height="557.8" fill="none" stroke="#262626" stroke-width="2.3"/>
<text class="t" x="104.6" y="26.1" text-anchor="end">0</text>
<text class="t" x="104.6" y="165.3" text-anchor="end">-100</text>
<text class="t" x="104.6" y="304.6" text-anchor="end">-200</text>
<text class="t" x="104.6" y="443.8" text-anchor="end">-300</text>
<text class="t" x="104.6" y="583.2" text-anchor="end">-400</text>
<text class="t" x="116.3" y="614.3" text-anchor="middle">1.8</text>
<text class="t" x="260.3" y="614.3" text-anchor="middle" letter-spacing="-0.8">1.85</text>
<text class="t" x="406.4" y="614.3" text-anchor="middle">1.9</text>
<text class="t" x="550.4" y="614.3" text-anchor="middle" letter-spacing="-0.8">1.95</text>
<text class="t" x="696.5" y="614.3" text-anchor="middle">2</text>
<text class="t" x="839.0" y="614.3" text-anchor="middle" letter-spacing="-0.8">2.05</text>
<text class="b" x="483.7" y="656" text-anchor="middle">Frequency /GHz</text>
<text class="b" style="font-size:35.1px" transform="translate(25 287.5) rotate(-90)" text-anchor="middle">|Y|&amp;G/dB</text>
<text class="p" x="713.6" y="113.8">p=1</text>
<text class="p" x="703.3" y="232.9">p=1.3</text>
<text class="p" x="703.3" y="344.3">p=1.5</text>
<text class="p" x="706" y="455.5">p=1.7</text>
</svg></body></html>
